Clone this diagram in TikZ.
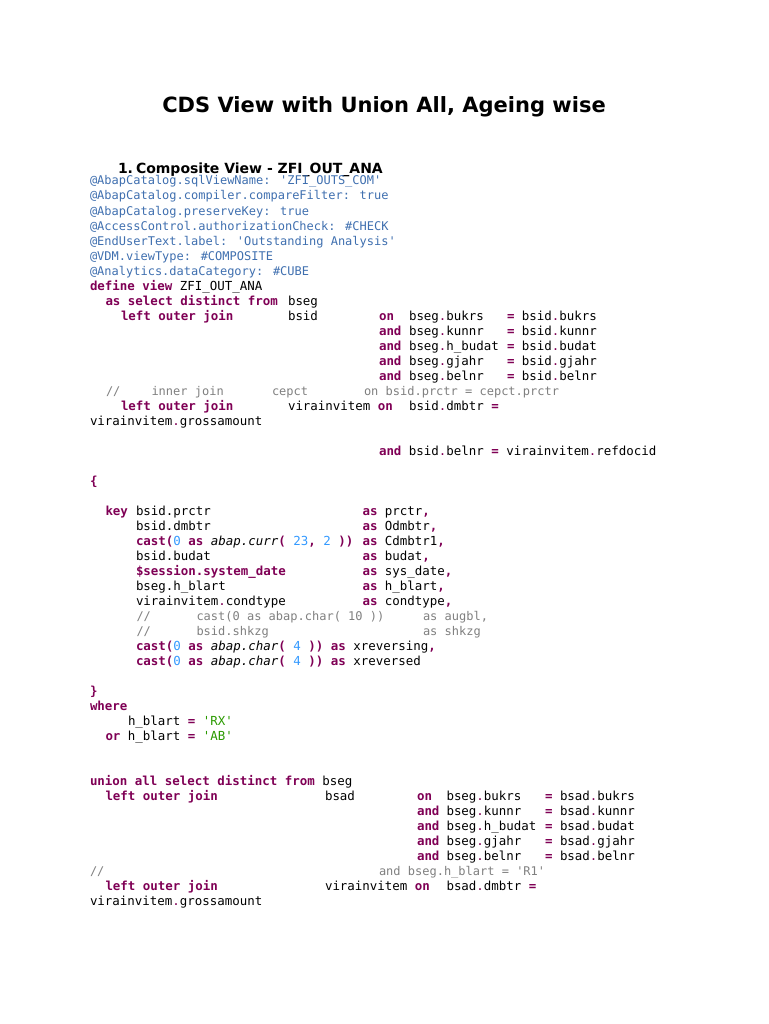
\documentclass[tikz,border=0pt]{standalone}
\usepackage{fontspec}
\setmainfont{DejaVu Sans}
\newfontfamily\codefont{DejaVu Sans Mono}[Scale=1.0]
\newfontfamily\annfont{DejaVu Sans Mono}
\definecolor{kwc}{HTML}{7F0055}
\definecolor{annc}{HTML}{3F6FAF}
\definecolor{cmc}{HTML}{7F7F7F}
\definecolor{strc}{HTML}{2A9A00}
\definecolor{numc}{HTML}{3399FF}
\newcommand\kw[1]{{\bfseries\color{kwc}#1}}
\newcommand\pp[1]{{\color{kwc}#1}}
\newcommand\nm[1]{{\color{numc}#1}}
\newcommand\st[1]{{\color{strc}#1}}
\newcount\segc
\newcommand\seg[3]{\global\advance\segc by 1\relax\node[code] (s\the\segc) at (#1,#2) {#3};}
\newcommand\ann[2]{\global\advance\segc by 1\relax\node[annot] (s\the\segc) at (90,#1) {#2};}
\newcommand\cmt[3]{\global\advance\segc by 1\relax\node[comm] (s\the\segc) at (#1,#2) {#3};}
\tikzset{
  base/.style={anchor=base west, inner sep=0pt, outer sep=0pt},
  code/.style={base, font=\codefont\fontsize{12.45}{15}\selectfont},
  annot/.style={base, font=\annfont\fontsize{12}{15}\selectfont, text=annc},
  comm/.style={base, font=\annfont\fontsize{12}{15}\selectfont, text=cmc},
}
\begin{document}
\begin{tikzpicture}[x=1pt,y=-1pt]
\useasboundingbox (0,0) rectangle (768,1024);
\node[anchor=base, inner sep=0pt, font=\bfseries\fontsize{21}{25}\selectfont] (title) at (384,113) {CDS View with Union All, Ageing wise};
\node[base, font=\bfseries\fontsize{14}{17}\selectfont] (h1) at (118,174) {1.};
\node[base, font=\bfseries\fontsize{14}{17}\selectfont] (h1t) at (136,174) {Composite View - ZFI\_OUT\_ANA};
\ann{185}{@AbapCatalog.sqlViewName: 'ZFI\_OUTS\_COM'}
\ann{200}{@AbapCatalog.compiler.compareFilter: true}
\ann{215}{@AbapCatalog.preserveKey: true}
\ann{230}{@AccessControl.authorizationCheck: \#CHECK}
\ann{245}{@EndUserText.label: 'Outstanding Analysis'}
\ann{260}{@VDM.viewType: \#COMPOSITE}
\ann{275}{@Analytics.dataCategory: \#CUBE}
\seg{90}{290}{\kw{define view} ZFI\_OUT\_ANA}
\seg{105.5}{305}{\kw{as select distinct from}}
\seg{288}{305}{bseg}
\seg{121}{320}{\kw{left outer join}}
\seg{288}{320}{bsid}
\seg{379}{320}{\kw{on}}
\seg{409}{320}{bseg\pp{.}bukrs}
\seg{409}{335}{bseg\pp{.}kunnr}
\seg{409}{350}{bseg\pp{.}h\_budat}
\seg{409}{365}{bseg\pp{.}gjahr}
\seg{409}{380}{bseg\pp{.}belnr}
\seg{379}{335}{\kw{and}}
\seg{379}{350}{\kw{and}}
\seg{379}{365}{\kw{and}}
\seg{379}{380}{\kw{and}}
\seg{507}{320}{\kw{=} bsid\pp{.}bukrs}
\seg{507}{335}{\kw{=} bsid\pp{.}kunnr}
\seg{507}{350}{\kw{=} bsid\pp{.}budat}
\seg{507}{365}{\kw{=} bsid\pp{.}gjahr}
\seg{507}{380}{\kw{=} bsid\pp{.}belnr}
\cmt{106}{395}{//}
\cmt{151.5}{395}{inner join}
\cmt{272}{395}{cepct}
\cmt{364}{395}{on bsid.prctr = cepct.prctr}
\seg{121}{410}{\kw{left outer join}}
\seg{288}{410}{virainvitem \kw{on}}
\seg{409}{410}{bsid\pp{.}dmbtr \kw{=}}
\seg{90}{425}{virainvitem\pp{.}grossamount}
\seg{379}{455}{\kw{and} bsid\pp{.}belnr \kw{=} virainvitem\pp{.}refdocid}
\seg{90}{485}{\kw{\{}}
\seg{105.5}{515}{\kw{key}}
\seg{136}{515}{bsid.prctr}
\seg{136}{530}{bsid.dmbtr}
\seg{136}{545}{\kw{cast(}\nm{0} \kw{as} \textit{abap.curr}\kw{(} \nm{23}\kw{,} \nm{2} \kw{))}}
\seg{136}{560}{bsid.budat}
\seg{136}{575}{\kw{\$session.system\_date}}
\seg{136}{590}{bseg.h\_blart}
\seg{136}{605}{virainvitem\pp{.}condtype}
\seg{362.5}{515}{\kw{as} prctr\kw{,}}
\seg{362.5}{530}{\kw{as} Odmbtr\kw{,}}
\seg{362.5}{545}{\kw{as} Cdmbtr1\kw{,}}
\seg{362.5}{560}{\kw{as} budat\kw{,}}
\seg{362.5}{575}{\kw{as} sys\_date\kw{,}}
\seg{362.5}{590}{\kw{as} h\_blart\kw{,}}
\seg{362.5}{605}{\kw{as} condtype\kw{,}}
\cmt{136.5}{620}{//}
\cmt{196.5}{620}{cast(0 as abap.char( 10 ))}
\cmt{423}{620}{as augbl,}
\cmt{136.5}{635}{//}
\cmt{196.5}{635}{bsid.shkzg}
\cmt{423}{635}{as shkzg}
\seg{136}{650}{\kw{cast(}\nm{0} \kw{as} \textit{abap.char}\kw{(} \nm{4} \kw{))} \kw{as} xreversing\kw{,}}
\seg{136}{665}{\kw{cast(}\nm{0} \kw{as} \textit{abap.char}\kw{(} \nm{4} \kw{))} \kw{as} xreversed}
\seg{90}{695}{\kw{\}}}
\seg{90}{710}{\kw{where}}
\seg{128}{725}{h\_blart \kw{=} \st{'RX'}}
\seg{105.5}{740}{\kw{or} h\_blart \kw{=} \st{'AB'}}
\seg{90}{785}{\kw{union all select distinct from} bseg}
\seg{105.5}{800}{\kw{left outer join}}
\seg{325}{800}{bsad}
\seg{417}{800}{\kw{on}}
\seg{446.5}{800}{bseg\pp{.}bukrs}
\seg{446.5}{815}{bseg\pp{.}kunnr}
\seg{446.5}{830}{bseg\pp{.}h\_budat}
\seg{446.5}{845}{bseg\pp{.}gjahr}
\seg{446.5}{860}{bseg\pp{.}belnr}
\seg{417}{815}{\kw{and}}
\seg{417}{830}{\kw{and}}
\seg{417}{845}{\kw{and}}
\seg{417}{860}{\kw{and}}
\seg{545}{800}{\kw{=} bsad\pp{.}bukrs}
\seg{545}{815}{\kw{=} bsad\pp{.}kunnr}
\seg{545}{830}{\kw{=} bsad\pp{.}budat}
\seg{545}{845}{\kw{=} bsad\pp{.}gjahr}
\seg{545}{860}{\kw{=} bsad\pp{.}belnr}
\cmt{90}{875}{//}
\cmt{379}{875}{and bseg.h\_blart = 'R1'}
\seg{105.5}{890}{\kw{left outer join}}
\seg{325}{890}{virainvitem \kw{on}}
\seg{446.5}{890}{bsad\pp{.}dmbtr \kw{=}}
\seg{90}{905}{virainvitem\pp{.}grossamount}
\end{tikzpicture}
\end{document}
